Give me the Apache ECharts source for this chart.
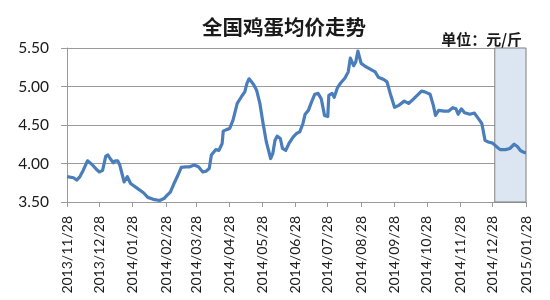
<!DOCTYPE html>
<html>
<head>
<meta charset="utf-8">
<script src="https://cdn.jsdelivr.net/npm/echarts@6/dist/echarts.min.js"></script>
<style>
html,body{margin:0;padding:0;background:#fff;}
#chart{width:550px;height:300px;}
</style>
</head>
<body>
<div id="chart"></div>
<script>
var titleText = '全国鸡蛋均价走势';
var unitText = '单位：元/斤';
var tickLabels = ['2013/11/28','2013/12/28','2014/01/28','2014/02/28','2014/03/28','2014/04/28','2014/05/28','2014/06/28','2014/07/28','2014/08/28','2014/09/28','2014/10/28','2014/11/28','2014/12/28','2015/01/28'];
var yTicks = [3.5, 4.0, 4.5, 5.0, 5.5];
var shadeRange = ['2014/12/30', '2015/01/28'];
var dates = ['2013/11/28','2013/12/04','2013/12/07','2013/12/10','2013/12/13','2013/12/17','2013/12/21','2013/12/26','2013/12/28','2013/12/31',
'2014/01/03','2014/01/05','2014/01/07','2014/01/10','2014/01/12','2014/01/14','2014/01/16','2014/01/18','2014/01/20','2014/01/23','2014/01/26',
'2014/02/01','2014/02/07','2014/02/11','2014/02/16','2014/02/22','2014/02/26',
'2014/03/01','2014/03/04','2014/03/08','2014/03/11','2014/03/14','2014/03/18','2014/03/22','2014/03/26','2014/03/30',
'2014/04/03','2014/04/06','2014/04/09','2014/04/11','2014/04/15','2014/04/18','2014/04/21','2014/04/22','2014/04/25','2014/04/28',
'2014/05/01','2014/05/05','2014/05/09','2014/05/12','2014/05/14','2014/05/16','2014/05/20','2014/05/23','2014/05/26','2014/05/29',
'2014/06/01','2014/06/05','2014/06/07','2014/06/09','2014/06/11','2014/06/14','2014/06/16','2014/06/19','2014/06/22','2014/06/26','2014/06/29',
'2014/07/02','2014/07/05','2014/07/07','2014/07/10','2014/07/13','2014/07/16','2014/07/19','2014/07/22','2014/07/25','2014/07/28','2014/07/29',
'2014/08/01','2014/08/03','2014/08/06','2014/08/09','2014/08/13','2014/08/16','2014/08/18','2014/08/21','2014/08/23','2014/08/25','2014/08/28',
'2014/09/01','2014/09/05','2014/09/10','2014/09/13','2014/09/18','2014/09/21','2014/09/24','2014/09/28',
'2014/10/02','2014/10/07','2014/10/11','2014/10/15','2014/10/19','2014/10/23','2014/10/26','2014/10/31',
'2014/11/03','2014/11/05','2014/11/08','2014/11/13','2014/11/17','2014/11/21','2014/11/24','2014/11/26','2014/11/29',
'2014/12/02','2014/12/07','2014/12/11','2014/12/15','2014/12/18','2014/12/21','2014/12/24','2014/12/28',
'2015/01/01','2015/01/04','2015/01/09','2015/01/13','2015/01/17','2015/01/20','2015/01/23','2015/01/27','2015/01/28'];
var prices = [3.83,3.815,3.785,3.83,3.91,4.035,3.99,3.915,3.89,3.91,
4.095,4.11,4.065,4.01,4.035,4.035,3.98,3.87,3.76,3.83,3.74,
3.68,3.62,3.56,3.535,3.52,3.545,
3.59,3.63,3.76,3.85,3.95,3.957,3.957,3.98,3.957,
3.89,3.90,3.935,4.11,4.18,4.17,4.26,4.42,4.44,4.455,
4.56,4.78,4.87,4.93,5.04,5.10,5.03,4.95,4.78,4.52,
4.28,4.065,4.13,4.30,4.355,4.325,4.195,4.17,4.26,4.345,4.39,
4.41,4.52,4.64,4.69,4.80,4.90,4.91,4.84,4.625,4.61,4.885,
4.91,4.86,4.985,5.045,5.11,5.19,5.37,5.27,5.32,5.46,5.30,
5.26,5.23,5.19,5.12,5.09,5.06,4.91,4.73,
4.755,4.81,4.78,4.83,4.885,4.94,4.93,4.90,
4.755,4.625,4.69,4.68,4.68,4.725,4.71,4.64,4.71,
4.66,4.64,4.655,4.58,4.52,4.30,4.28,4.265,
4.215,4.18,4.18,4.195,4.25,4.22,4.165,4.14,4.14];

function toTime(s) {
  var p = s.split('/');
  return Date.UTC(+p[0], +p[1] - 1, +p[2]);
}
function pad(n) { return (n < 10 ? '0' : '') + n; }
var tickTimes = tickLabels.map(toTime);
var seriesData = dates.map(function (d, i) { return [toTime(d), prices[i]]; });

var chart = echarts.init(document.getElementById('chart'), null, {renderer: 'canvas'});
var axisColor = '#9a9a9a';
chart.setOption({
  animation: false,
  backgroundColor: '#ffffff',
  title: [{
    text: titleText,
    left: 279, top: 12, textAlign: 'center',
    textStyle: {fontFamily: '"Noto Sans CJK SC"', fontSize: 20.5, fontWeight: 'bold', color: '#1a1a1a'}
  }, {
    text: unitText,
    right: 23, top: 27,
    textStyle: {fontFamily: '"Noto Sans CJK SC"', fontSize: 15, fontWeight: 'bold', color: '#1a1a1a'}
  }],
  grid: {left: 67, right: 24, top: 48, bottom: 98},
  xAxis: {
    type: 'value',
    min: tickTimes[0],
    max: tickTimes[tickTimes.length - 1],
    axisLine: {show: true, lineStyle: {color: axisColor, width: 1}},
    axisTick: {show: true, length: 5, inside: false, lineStyle: {color: axisColor}, customValues: tickTimes},
    splitLine: {show: false},
    axisLabel: {
      customValues: tickTimes,
      rotate: 90,
      margin: 14,
      fontFamily: 'Lato',
      fontSize: 14,
      color: '#1a1a1a',
      formatter: function (v) {
        var d = new Date(v);
        return d.getUTCFullYear() + '/' + pad(d.getUTCMonth() + 1) + '/' + pad(d.getUTCDate());
      }
    }
  },
  yAxis: {
    type: 'value',
    min: yTicks[0], max: yTicks[yTicks.length - 1], interval: 0.5,
    axisLine: {show: true, lineStyle: {color: axisColor}},
    axisTick: {show: true, length: 6, lineStyle: {color: axisColor}},
    splitLine: {show: true, lineStyle: {color: axisColor, width: 1}},
    axisLabel: {
      margin: 18,
      fontFamily: 'Lato', fontSize: 15.5, color: '#1a1a1a',
      formatter: function (v) { return v.toFixed(2); }
    }
  },
  series: [{
    type: 'line',
    data: seriesData,
    showSymbol: false,
    smooth: false,
    lineStyle: {color: '#4a7ebb', width: 3.2, join: 'round'},
    markArea: {
      silent: true,
      itemStyle: {color: '#dce6f2', borderColor: '#7f7f7f', borderWidth: 1},
      data: [[{xAxis: toTime(shadeRange[0])}, {xAxis: toTime(shadeRange[1])}]]
    },
    z: 3
  }]
});
</script>
</body>
</html>
